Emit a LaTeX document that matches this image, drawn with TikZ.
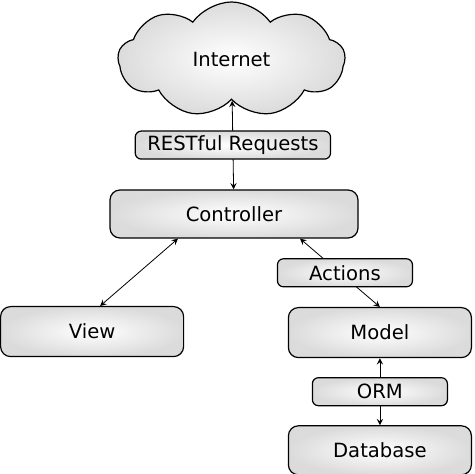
\documentclass[tikz,border=0pt]{standalone}
\usepackage{fontspec}
\setmainfont{DejaVu Sans}
\usetikzlibrary{calc}
\usetikzlibrary{positioning}
\usetikzlibrary{shapes.symbols}

\tikzset{
	box/.style={draw,rounded corners=5pt,line width=0.6pt,inner color=white,outer color=gray!28,minimum width=91.5pt,minimum height=25pt},
	tag/.style={draw,rounded corners=3pt,line width=0.6pt,inner color=white,outer color=gray!28,minimum width=67.5pt,minimum height=14pt,inner xsep=6pt,inner ysep=1pt},
}

\begin{document}
\begin{tikzpicture}[x=1pt,y=1pt,font=\fontsize{9.8}{11.6}\selectfont,>=stealth,node distance=33.5pt]
		\useasboundingbox (0,0) rectangle (237,237);
		\node [box,minimum width=124pt,minimum height=24pt] (controller) at (117,130) {Controller};
		\node [draw,cloud,cloud puffs=9,cloud puff arc=110,aspect=2,line width=0.6pt,inner color=white,outer color=gray!28,minimum width=113.5pt,minimum height=57.5pt] (internet) at (115.75,207.25) {Internet};
		\node [box,anchor=north west] (view) at (0,84) {View};
		\node [box,anchor=north east] (model) at (236,83.5) {Model};
		\node [box,below=of model,minimum height=24.5pt] (database) {Database};

		\draw [<->] (internet) -- node [tag] (rest) {RESTful Requests} (controller);
		\draw [<->] ($(controller.south)+(-28,0)$) -- ($(view.north)+(4,0)$);
		\draw [<->] ($(controller.south)+(33,0)$) -- node [tag,xshift=2.5pt] (actions) {Actions} (model.north);
		\draw [<->] (model) -- node [tag] (orm) {ORM} (database);
	\end{tikzpicture}
\end{document}
